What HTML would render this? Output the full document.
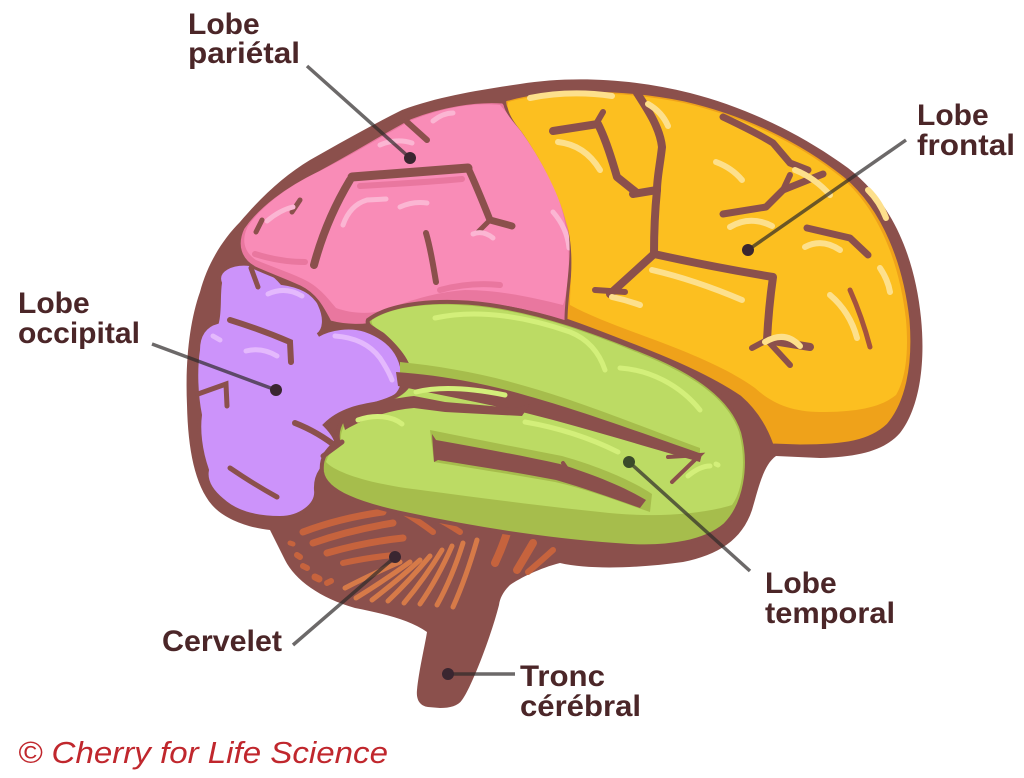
<!DOCTYPE html>
<html><head><meta charset="utf-8"><style>
html,body{margin:0;padding:0;background:#fff;width:1024px;height:778px;overflow:hidden}
svg{display:block}
.lbl{font-family:"Liberation Sans",Arial,sans-serif;font-weight:bold;font-size:30px;fill:#4b2628}
</style></head><body>
<svg width="1024" height="778" viewBox="0 0 1024 778" xmlns="http://www.w3.org/2000/svg">
<rect width="1024" height="778" fill="#fff"/>
<!-- outline -->
<path fill="#8b504c" d="M187,405 C185,360 190,320 200,292 C207,265 222,240 240,222 C262,196 285,175 310,160 C340,143 372,125 402,110 C440,96 480,90 520,84 C570,76 630,78 690,93 C745,107 800,133 848,168 C893,203 915,258 921,318 C926,368 918,410 900,433 C885,450 860,457 820,458 L776,456 C763,465 758,490 752,510 C742,540 718,555 683,562 C640,568 590,570 560,563 C540,568 520,578 510,585 C503,592 500,598 499,605 C490,640 470,690 462,700 C458,706 450,708 440,708 L428,707 C420,706 416,700 417,690 C419,670 425,645 427,632 C410,620 385,614 355,608 C320,598 295,580 285,560 C280,550 275,540 270,530 C250,528 225,520 212,505 C195,485 188,450 187,405 Z"/>

<!-- cerebellum stripes -->
<g stroke="#c6633d" stroke-linecap="round" fill="none">
<path stroke-width="7" d="M303,532 Q340,518 383,512"/>
<path stroke-width="7" d="M313,543 Q350,530 393,523"/>
<path stroke-width="7" d="M327,553 Q365,542 403,538"/>
<path stroke-width="6" d="M343,563 Q370,557 395,555"/>
<path stroke-width="6" d="M405,513 Q420,522 433,532"/>
<path stroke-width="6" d="M430,515 Q445,522 460,532"/>
<path stroke-width="4" d="M455,517 L465,525"/>
<path stroke-width="5" d="M290,543 L293,544"/>
<path stroke-width="6" d="M297,555 L300,557"/>
<path stroke-width="6" d="M303,566 L307,568"/>
<path stroke-width="7" d="M315,577 L319,579"/>
<path stroke-width="6" d="M327,583 L331,581"/>
<path stroke-width="8" d="M495,563 Q502,548 507,533"/>
<path stroke-width="8" d="M517,570 Q526,555 533,543"/>
<path stroke-width="6" d="M528,572 Q542,560 553,550"/>
</g>
<g stroke="#d67a48" stroke-linecap="round" fill="none" stroke-width="5">
<path d="M345,588 Q370,575 400,562"/>
<path d="M356,598 Q385,580 410,562"/>
<path d="M372,600 Q398,580 420,560"/>
<path d="M388,601 Q410,580 430,556"/>
<path d="M404,603 Q425,578 442,550"/>
<path d="M420,604 Q438,578 452,546"/>
<path d="M437,605 Q452,578 463,543"/>
<path d="M453,607 Q466,578 477,540"/>
</g>

<!-- purple occipital -->
<path fill="#cc93fa" stroke="#8b504c" stroke-width="4" d="M220,283 C215,270 232,262 250,264 C265,266 275,275 282,283 C298,285 315,292 320,305 C326,318 325,330 318,335 C330,328 350,325 365,330 C385,337 400,350 403,372 C405,392 395,400 380,403 C360,406 340,410 325,425 C335,435 340,445 337,455 C325,465 315,472 316,490 C318,505 300,518 280,518 C255,518 235,512 222,500 C210,490 205,480 207,470 C200,450 198,430 200,415 C196,395 195,370 198,350 C198,335 205,325 217,322 C220,310 218,295 220,283 Z"/>
<g stroke="#8b504c" stroke-linecap="round" fill="none">
<path stroke-width="6" d="M230,320 Q262,330 290,342 L291,362"/>
<path stroke-width="5" d="M251,268 L258,287"/>
<path stroke-width="5" d="M198,394 L226,384 L227,406"/>
<path stroke-width="6" d="M295,423 Q318,432 338,448"/>
<path stroke-width="5" d="M230,468 Q255,485 277,497"/>
</g>
<g stroke="#e4b9fd" stroke-linecap="round" fill="none" stroke-width="5">
<path d="M268,294 Q285,286 302,296"/>
<path d="M246,351 Q262,347 277,356"/>
<path d="M213,336 L220,340"/>
<path d="M335,336 Q365,338 380,358 Q388,370 392,380"/>
</g>

<!-- pink parietal -->
<path fill="#e9779f" stroke="#8b504c" stroke-width="3" d="M243,228 C258,206 285,186 318,170 C350,153 382,133 410,118 C440,106 475,100 503,102 C520,122 540,150 556,182 C570,212 576,250 572,282 C570,300 568,312 566,322 C540,314 500,304 460,302 C430,302 400,312 380,322 C365,327 345,326 330,322 C322,307 316,295 300,287 C285,280 268,274 255,268 C240,260 235,245 243,228 Z"/>
<path fill="#f98cb7" d="M248,226 C262,206 288,186 320,171 C352,155 384,135 412,120 C442,108 474,102 500,105 C518,125 537,152 552,183 C566,212 571,248 568,278 C566,295 565,300 563,305 C535,298 500,290 465,290 C435,292 405,302 385,310 C368,315 350,313 336,308 C326,296 318,286 303,279 C288,272 270,266 256,260 C244,252 241,240 248,226 Z"/>
<g stroke="#8b504c" stroke-linecap="round" fill="none">
<path stroke-width="9" d="M352,177 C390,174 430,171 468,168"/>
<path stroke-width="6" d="M407,122 L427,140"/>
<path stroke-width="7" d="M468,168 C476,185 484,205 490,220 L512,226"/>
<path stroke-width="5" d="M490,220 L478,232"/>
<path stroke-width="8" d="M350,180 C335,205 322,235 314,265"/>
<path stroke-width="6" d="M426,233 C431,250 433,265 436,282"/>
<path stroke-width="5" d="M300,200 L292,212"/>
<path stroke-width="5" d="M262,220 L256,232"/>
</g>
<g stroke="#e9779f" stroke-linecap="round" fill="none" stroke-width="6">
<path d="M360,186 C395,184 430,182 462,179"/>
<path d="M255,254 Q280,262 305,262"/>
<path d="M440,290 Q470,282 500,285"/>
</g>
<g stroke="#fbb6d3" stroke-linecap="round" fill="none" stroke-width="5">
<path d="M433,121 Q443,113 453,113"/>
<path d="M380,145 Q396,138 412,143"/>
<path d="M343,225 Q350,205 367,200 L386,199"/>
<path d="M400,207 Q413,201 427,203"/>
<path d="M267,221 Q280,210 293,207"/>
<path d="M473,234 Q483,230 493,238"/>
<path d="M553,212 Q567,228 569,248"/>
</g>

<!-- green temporal -->
<path fill="#a6bd4c" stroke="#8b504c" stroke-width="4" d="M368,320 C390,303 440,298 490,305 C545,313 595,332 645,352 C695,372 732,397 743,432 C752,467 745,505 725,525 C705,542 670,548 630,546 C560,542 480,530 410,515 C360,505 325,492 322,472 C320,455 330,448 338,440 C336,425 345,413 360,408 C385,402 405,395 410,382 C414,365 395,345 380,332 C372,328 366,325 368,320 Z"/>
<path fill="#bcdb64" d="M372,320 C394,305 440,301 490,308 C545,316 595,335 643,355 C690,374 728,398 739,432 C747,462 742,492 732,505 C700,515 650,518 600,512 C530,505 460,495 405,488 C365,482 335,472 326,462 C330,450 336,446 341,440 C340,428 348,418 362,412 C386,405 406,397 412,383 C416,365 398,345 384,333 C376,328 370,325 372,320 Z"/>
<!-- olive shading under top gyrus -->
<path fill="#a6bd4c" d="M400,362 C440,366 485,374 525,386 C575,400 625,420 700,448 L700,462 C625,440 575,425 525,412 C480,400 440,392 400,384 Z"/>
<!-- sulcus between top and middle gyrus -->
<path fill="#8b504c" d="M396,372 C440,375 488,384 528,396 C578,410 628,428 702,454 L700,462 C630,442 578,426 526,413 C482,403 440,395 398,386 Z"/>
<path fill="none" stroke="#8b504c" stroke-width="4" stroke-linecap="round" d="M668,457 L700,455 L672,482"/>
<!-- separation middle / lower-left -->
<path fill="#8b504c" d="M340,412 C370,403 395,398 414,396 L445,402 L515,408 L530,404 L522,416 L445,412 L414,408 C390,410 365,418 345,430 Z"/>
<!-- olive around wedge fissure -->
<path fill="#a6bd4c" d="M430,430 C480,440 520,448 562,456 C604,468 634,482 652,494 L650,512 C620,502 590,490 555,482 C510,474 470,468 434,462 Z"/>
<!-- wedge fissure -->
<path fill="#8b504c" d="M432,434 L436,440 C480,448 520,455 560,464 C598,476 626,488 646,500 L640,508 C612,498 584,488 556,480 C515,472 475,466 438,460 L434,462 Z"/>
<path fill="none" stroke="#8b504c" stroke-width="4" stroke-linecap="round" d="M563,463 L576,482"/>
<path fill="none" stroke="#8b504c" stroke-width="5" stroke-linecap="round" d="M323,456 L342,442"/>
<g stroke="#d3ef7a" stroke-linecap="round" fill="none" stroke-width="5">
<path d="M435,318 C480,308 530,318 570,332 C590,340 600,355 605,370"/>
<path d="M620,368 C650,370 680,385 700,410"/>
<path d="M416,392 C440,386 470,388 505,395"/>
<path d="M358,420 C375,414 392,416 402,424"/>
<path d="M525,422 C560,428 590,438 618,452"/>
<path d="M688,476 Q700,466 710,466"/>
<path d="M716,464 L718,465"/>
</g>

<!-- yellow frontal -->
<path fill="#efa21a" stroke="#8b504c" stroke-width="3" d="M505,100 C545,88 615,86 685,100 C745,114 800,140 845,176 C885,210 905,265 911,320 C915,370 905,405 888,425 C870,442 845,446 800,446 L772,445 C765,425 755,410 740,397 C715,380 685,366 650,352 C615,338 590,328 566,320 C566,290 576,252 568,222 C560,190 540,155 522,130 C512,118 503,108 505,100 Z"/>
<path fill="#fcbf20" d="M508,102 C547,91 615,89 684,103 C743,117 797,142 842,178 C880,211 900,265 906,320 C909,355 905,380 896,395 C880,408 855,412 820,412 C790,412 770,402 755,388 C730,370 695,355 655,340 C620,327 592,317 570,305 C570,280 575,250 566,222 C558,190 538,155 521,131 C512,120 506,110 508,102 Z"/>
<g stroke="#8b504c" stroke-linecap="round" stroke-linejoin="round" fill="none">
<path stroke-width="8" d="M553,131 L598,124 C606,140 612,160 617,177 L637,193"/>
<path stroke-width="6" d="M596,124 L603,112"/>
<path stroke-width="8" d="M637,93 C648,110 660,128 662,147 C660,165 657,178 657,190 L633,194"/>
<path stroke-width="8" d="M657,190 C655,210 654,232 654,254 L610,294"/>
<path stroke-width="8" d="M654,254 C690,262 730,270 773,277 C770,298 768,320 767,340 L810,347"/>
<path stroke-width="6" d="M767,340 L752,348"/>
<path stroke-width="6" d="M767,340 L790,365"/>
<path stroke-width="7" d="M723,117 C740,125 760,135 773,143 L790,163 L808,170"/>
<path stroke-width="7" d="M723,214 L766,207 L783,190 L823,174"/>
<path stroke-width="6" d="M783,190 L790,175"/>
<path stroke-width="7" d="M807,228 L850,238 L868,255"/>
<path stroke-width="5" stroke="#a4523e" d="M850,290 C858,308 865,328 870,347"/>
<path stroke-width="6" d="M595,290 L625,292"/>
</g>
<g stroke="#fde08c" stroke-linecap="round" fill="none" stroke-width="6">
<path d="M530,98 Q570,90 612,96"/>
<path d="M648,104 Q662,112 668,126"/>
<path d="M558,142 Q585,145 600,170"/>
<path d="M716,162 Q732,168 742,180"/>
<path d="M730,227 Q750,215 772,226"/>
<path d="M805,247 Q822,238 840,250"/>
<path d="M652,270 Q695,280 742,300"/>
<path d="M612,297 Q626,300 640,305"/>
<path d="M765,342 Q785,330 800,346"/>
<path d="M830,295 Q850,312 857,338"/>
<path d="M868,190 Q880,202 886,218"/>
<path d="M795,170 Q815,178 830,195"/>
<path d="M880,268 Q888,280 890,292"/>
</g>

<!-- leader lines -->
<g stroke="#2e2a2a" stroke-opacity="0.7" stroke-width="3.5" fill="none">
<line x1="307" y1="66" x2="410" y2="158"/>
<line x1="906" y1="140" x2="748" y2="250"/>
<line x1="152" y1="344" x2="276" y2="390"/>
<line x1="750" y1="571" x2="629" y2="462"/>
<line x1="293" y1="645" x2="395" y2="557"/>
<line x1="515" y1="674" x2="448" y2="674"/>
</g>
<g fill="#3a2630">
<circle cx="410" cy="158" r="6"/>
<circle cx="748" cy="250" r="6"/>
<circle cx="276" cy="390" r="6"/>
<circle cx="629" cy="462" r="6" fill="#3a4a2a"/>
<circle cx="395" cy="557" r="6"/>
<circle cx="448" cy="674" r="6"/>
</g>

<!-- labels -->
<text class="lbl" x="188" y="34">Lobe</text>
<text class="lbl" x="188" y="63" textLength="112" lengthAdjust="spacingAndGlyphs">pariétal</text>
<text class="lbl" x="917" y="125">Lobe</text>
<text class="lbl" x="917" y="155" textLength="98" lengthAdjust="spacingAndGlyphs">frontal</text>
<text class="lbl" x="18" y="313">Lobe</text>
<text class="lbl" x="18" y="343" textLength="122" lengthAdjust="spacingAndGlyphs">occipital</text>
<text class="lbl" x="765" y="593">Lobe</text>
<text class="lbl" x="765" y="623" textLength="130" lengthAdjust="spacingAndGlyphs">temporal</text>
<text class="lbl" x="162" y="651" textLength="120" lengthAdjust="spacingAndGlyphs">Cervelet</text>
<text class="lbl" x="520" y="686" textLength="85" lengthAdjust="spacingAndGlyphs">Tronc</text>
<text class="lbl" x="520" y="716" textLength="121" lengthAdjust="spacingAndGlyphs">cérébral</text>
<text x="18" y="763" font-family="Liberation Sans, Arial, sans-serif" font-style="italic" font-size="31" fill="#c0272d" textLength="370" lengthAdjust="spacingAndGlyphs">© Cherry for Life Science</text>
</svg>
</body></html>
